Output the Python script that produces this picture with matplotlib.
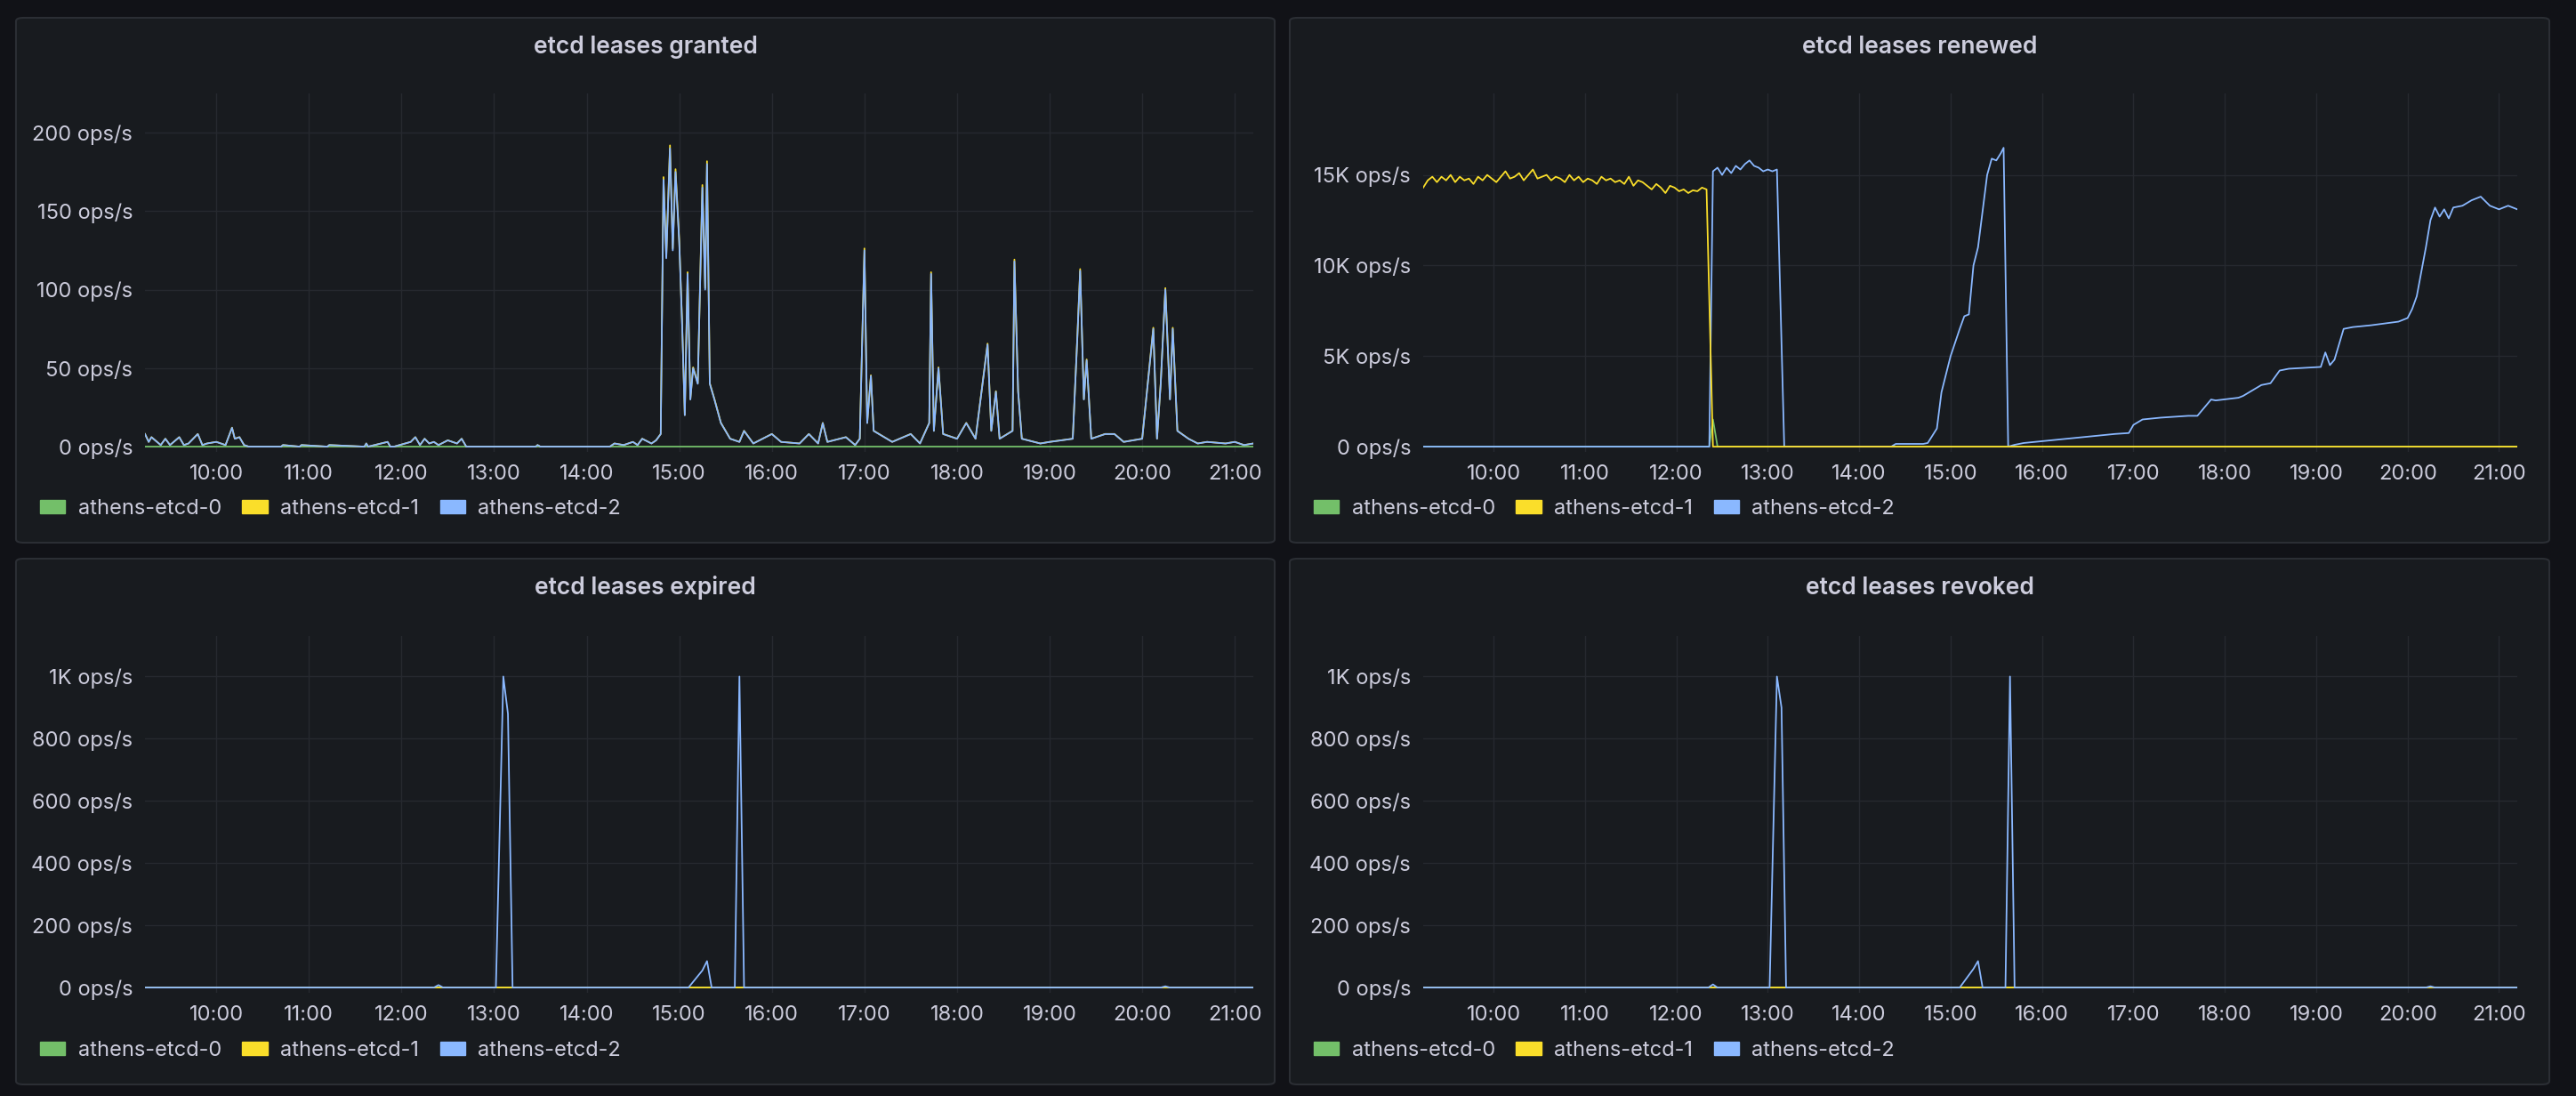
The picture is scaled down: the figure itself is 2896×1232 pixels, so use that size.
import numpy as np
import matplotlib
matplotlib.use('Agg')
import matplotlib.pyplot as plt
from matplotlib.patches import FancyBboxPatch, Rectangle
from matplotlib.ticker import FixedLocator, FuncFormatter

# ── Style ────────────────────────────────────────────────────────
BG      = '#111217'
PANEL   = '#181b1f'
BORDER  = '#2b2e34'
GRID    = '#26292f'
TEXT    = '#ccccdc'
COLORS  = {'athens-etcd-0': '#73bf69',
           'athens-etcd-1': '#fade2a',
           'athens-etcd-2': '#8ab8ff'}
SERIES  = list(COLORS)

plt.rcParams['font.family'] = ['Inter', 'DejaVu Sans']

# ── Data (hours of day, values) ──────────────────────────────────
X_TICKS  = [10, 11, 12, 13, 14, 15, 16, 17, 18, 19, 20, 21]
X_LABELS = ['10:00', '11:00', '12:00', '13:00', '14:00', '15:00',
            '16:00', '17:00', '18:00', '19:00', '20:00', '21:00']
T_START, T_END = 9.23, 21.2

granted_t = [9.23, 9.27, 9.3, 9.4, 9.45, 9.5, 9.6, 9.65, 9.7, 9.8, 9.85, 9.9,
             10.0, 10.1, 10.17, 10.2, 10.25, 10.3, 10.35, 10.7, 10.72, 10.9,
             10.92, 11.2, 11.22, 11.6, 11.62, 11.64, 11.85, 11.88, 11.92,
             12.1, 12.15, 12.2, 12.25, 12.3, 12.35, 12.4, 12.5, 12.6, 12.65,
             12.7, 13.45, 13.47, 13.5, 14.25, 14.3, 14.4, 14.5, 14.55, 14.6,
             14.7, 14.75, 14.8, 14.83, 14.86, 14.9, 14.93, 14.96, 15.0, 15.03,
             15.06, 15.09, 15.12, 15.15, 15.2, 15.25, 15.28, 15.3, 15.33,
             15.38, 15.45, 15.55, 15.65, 15.7, 15.8, 16.0, 16.1, 16.3, 16.4,
             16.5, 16.55, 16.6, 16.8, 16.9, 16.95, 17.0, 17.03, 17.07, 17.1,
             17.3, 17.5, 17.6, 17.7, 17.72, 17.75, 17.8, 17.85, 18.0, 18.1,
             18.2, 18.33, 18.37, 18.42, 18.46, 18.6, 18.62, 18.66, 18.7, 18.9,
             19.0, 19.25, 19.3, 19.33, 19.37, 19.4, 19.45, 19.6, 19.7, 19.8,
             20.0, 20.12, 20.16, 20.2, 20.25, 20.3, 20.33, 20.38, 20.5, 20.6,
             20.7, 20.9, 21.0, 21.1, 21.2]
granted_v = [8, 3, 6, 1, 5, 1, 6, 1, 2, 8, 1, 2,
             3, 1, 12, 5, 6, 1, 0, 0, 1, 0,
             1, 0, 1, 0, 2, 0, 3, 0, 0,
             3, 6, 1, 5, 2, 3, 1, 4, 2, 5,
             0, 0, 1, 0, 0, 2, 1, 3, 1, 5,
             2, 4, 8, 170, 120, 190, 125, 175, 130, 80,
             20, 110, 30, 50, 40, 165, 100, 180, 40,
             30, 15, 5, 3, 10, 2, 8, 3, 2, 8,
             2, 15, 3, 6, 1, 5, 125, 15, 45, 10,
             3, 8, 2, 15, 110, 10, 50, 8, 5, 15,
             5, 65, 10, 35, 5, 10, 118, 35, 5, 2,
             3, 5, 70, 112, 30, 55, 5, 8, 8, 3,
             5, 75, 5, 40, 100, 30, 75, 10, 5, 2,
             3, 2, 3, 1, 2]

# athens-etcd-1 renewals, sampled every 3 minutes until it stops at ~12:22
ren1_noise = [14300, 14700, 14900, 14600, 14900, 14700, 15000, 14600, 14900, 14700,
              14800, 14500, 14900, 14700, 15000, 14800, 14600, 14900, 15200, 14800,
              14900, 15100, 14700, 15000, 15300, 14800, 14900, 15000, 14700, 14900,
              14800, 14600, 15000, 14700, 14900, 14600, 14800, 14700, 14500, 14900,
              14700, 14800, 14600, 14700, 14500, 14900, 14400, 14700, 14600, 14400,
              14200, 14500, 14300, 14000, 14400, 14300, 14100, 14200, 14000, 14150,
              14100, 14300, 14200]
ren1_t = list(np.round(np.arange(9.23, 12.36, 0.05), 2)) + [12.4, 12.45, 21.2]
ren1_v = ren1_noise[:len(ren1_t) - 3] + [0, 0, 0]

ren2_t = [9.23, 12.36, 12.4, 12.45, 12.5, 12.55, 12.6, 12.65, 12.7, 12.75,
          12.8, 12.85, 12.9, 12.95, 13.0, 13.05, 13.1, 13.18, 14.35, 14.4,
          14.7, 14.75, 14.85, 14.9, 15.0, 15.1, 15.15, 15.2, 15.25, 15.3,
          15.35, 15.4, 15.45, 15.5, 15.55, 15.58, 15.63, 15.7, 15.8, 16.0,
          16.2, 16.4, 16.6, 16.8, 16.95, 17.0, 17.1, 17.3, 17.6, 17.7,
          17.85, 17.9, 18.15, 18.2, 18.4, 18.5, 18.6, 18.7, 19.05, 19.1,
          19.15, 19.2, 19.3, 19.4, 19.6, 19.9, 20.0, 20.05, 20.1, 20.2,
          20.25, 20.3, 20.35, 20.4, 20.45, 20.5, 20.6, 20.7, 20.8, 20.9,
          21.0, 21.1, 21.2]
ren2_v = [0, 0, 15200, 15400, 15000, 15400, 15100, 15500, 15300, 15600,
          15800, 15500, 15400, 15200, 15300, 15200, 15300, 0, 0, 150,
          150, 200, 1000, 3000, 5000, 6500, 7200, 7300, 10000, 11000,
          13000, 15000, 15900, 15800, 16200, 16500, 0, 100, 200, 300,
          400, 500, 600, 700, 750, 1200, 1500, 1600, 1700, 1700,
          2600, 2550, 2700, 2800, 3400, 3500, 4200, 4300, 4400, 5200,
          4500, 4800, 6500, 6600, 6700, 6900, 7100, 7600, 8300, 11000,
          12500, 13200, 12700, 13100, 12600, 13200, 13300, 13600, 13800, 13300,
          13100, 13300, 13100]

exp_t = [9.23, 12.35, 12.4, 12.45, 13.02, 13.1, 13.15, 13.2, 15.1, 15.25,
         15.3, 15.35, 15.6, 15.65, 15.7, 20.2, 20.25, 20.3, 21.2]
exp_v = [0, 0, 8, 0, 0, 1000, 880, 0, 0, 55,
         85, 0, 0, 1000, 0, 0, 4, 0, 0]

rev_t = [9.23, 12.35, 12.4, 12.45, 13.02, 13.1, 13.15, 13.2, 15.1, 15.25,
         15.3, 15.35, 15.6, 15.65, 15.7, 20.2, 20.25, 20.3, 21.2]
rev_v = [0, 0, 10, 0, 0, 1000, 900, 0, 0, 60,
         85, 0, 0, 1000, 0, 0, 4, 0, 0]

W, H = 2896, 1232


def ops_fmt(v, _):
    if v >= 1000:
        return f'{v / 1000:g}K ops/s'
    return f'{v:g} ops/s'


def draw_panel(fig, rect, title):
    x0, y0, x1, y1 = rect
    fig.patches.append(FancyBboxPatch(
        (x0 / W, 1 - y1 / H), (x1 - x0) / W, (y1 - y0) / H,
        boxstyle='round,pad=0,rounding_size=0.003',
        transform=fig.transFigure, facecolor=PANEL,
        edgecolor=BORDER, linewidth=1.5, zorder=-5))
    fig.text((x0 + x1) / 2 / W, 1 - (y0 + 33) / H, title, color=TEXT,
             fontsize=19, fontweight='semibold', ha='center', va='center')
    handles = [Rectangle((0, 0), 1, 1, color=COLORS[s]) for s in SERIES]
    fig.legend(handles, SERIES, loc='center left',
               bbox_to_anchor=(x0 / W + 0.002, 1 - (y1 - 38) / H),
               ncol=3, frameon=False, labelcolor=TEXT, fontsize=17,
               handlelength=1.2, handleheight=0.6, handletextpad=0.6,
               columnspacing=1.0)


def draw_axes(fig, rect, ymax, yticks, series):
    l, t, r, b = rect
    ax = fig.add_axes([l / W, 1 - b / H, (r - l) / W, (b - t) / H])
    ax.set_zorder(2)
    ax.set_facecolor('none')
    for name, (ts, vs) in series:
        ax.plot(ts, vs, color=COLORS[name], linewidth=1.3)
    ax.set_xlim(T_START, T_END)
    ax.set_ylim(-ymax * 0.015, ymax)
    ax.xaxis.set_major_locator(FixedLocator(X_TICKS))
    ax.set_xticklabels(X_LABELS)
    ax.yaxis.set_major_locator(FixedLocator(yticks))
    ax.yaxis.set_major_formatter(FuncFormatter(ops_fmt))
    ax.grid(True, color=GRID, linewidth=1)
    ax.tick_params(colors=TEXT, labelsize=17, length=0, pad=10)
    for spine in ax.spines.values():
        spine.set_visible(False)
    return ax


def main():
    fig = plt.figure(figsize=(28.96, 12.32), dpi=100)
    fig.patch.set_facecolor(BG)

    panels = [
        ((18, 20, 1433, 610), (163, 105, 1409, 508), 'etcd leases granted',
         225, [0, 50, 100, 150, 200],
         [('athens-etcd-0', ([T_START, T_END], [0, 0])),
          ('athens-etcd-1', (granted_t, [v * 1.01 for v in granted_v])),
          ('athens-etcd-2', (granted_t, granted_v))]),
        ((1450, 20, 2866, 610), (1600, 105, 2830, 508), 'etcd leases renewed',
         19500, [0, 5000, 10000, 15000],
         [('athens-etcd-0', ([T_START, 12.36, 12.4, 12.45, T_END],
                             [0, 0, 1500, 0, 0])),
          ('athens-etcd-2', (ren2_t, ren2_v)),
          ('athens-etcd-1', (ren1_t, ren1_v))]),
        ((18, 628, 1433, 1219), (163, 715, 1409, 1116), 'etcd leases expired',
         1130, [0, 200, 400, 600, 800, 1000],
         [('athens-etcd-0', ([T_START, T_END], [0, 0])),
          ('athens-etcd-1', ([T_START, T_END], [0, 0])),
          ('athens-etcd-2', (exp_t, exp_v))]),
        ((1450, 628, 2866, 1219), (1600, 715, 2830, 1116), 'etcd leases revoked',
         1130, [0, 200, 400, 600, 800, 1000],
         [('athens-etcd-0', ([T_START, T_END], [0, 0])),
          ('athens-etcd-1', ([T_START, T_END], [0, 0])),
          ('athens-etcd-2', (rev_t, rev_v))]),
    ]

    for prect, arect, title, ymax, yticks, series in panels:
        draw_panel(fig, prect, title)
        draw_axes(fig, arect, ymax, yticks, series)

    fig.savefig('out.png', dpi=100, facecolor=BG)


if __name__ == '__main__':
    main()
